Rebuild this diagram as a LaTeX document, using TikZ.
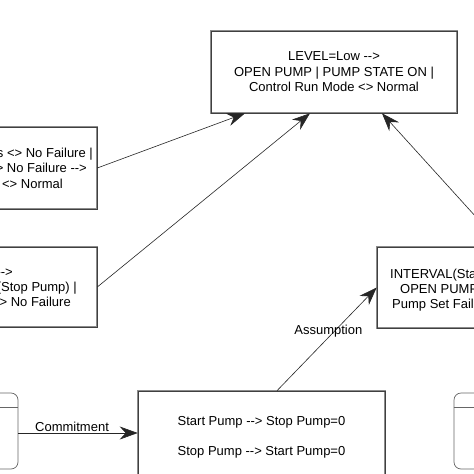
\documentclass[tikz,border=0pt]{standalone}
\usepackage{fontspec}
\setmainfont{Liberation Sans}[Ligatures=TeXOff]
\usetikzlibrary{arrows.meta}
\begin{document}
\begin{tikzpicture}[x=1pt,y=-1pt,
  frame/.style={draw=black!45, double=black!75, line width=0.6pt, double distance=0.5pt, fill=white, inner sep=0pt},
  ubox/.style={draw=black!60, line width=0.7pt, rounded corners=7pt},
  divline/.style={draw=black!60, line width=0.7pt},
  conn/.style={draw=black!85, line width=0.6pt, -{Stealth[length=18pt,width=13pt,inset=6pt]}},
  txt/.style={font=\fontsize{13}{15.5}\selectfont, inner sep=0pt},
  lbl/.style={font=\fontsize{13}{15.5}\selectfont, inner sep=0pt}]
\clip (0,0) rectangle (474,474);
\fill[white] (0,0) rectangle (474,474);
% top box
\node[frame, txt, minimum width=246pt, minimum height=82pt, align=center] (top) at (334,72)
  {LEVEL=Low -->\\OPEN PUMP | PUMP STATE ON |\\Control Run Mode <> Normal};
% left box 1
\node[frame, minimum width=242pt, minimum height=82pt] (ba) at (-24,168) {};
\node[txt, anchor=base east] (ba1) at (93,157) {s <> No Failure |};
\node[txt, anchor=base east] (ba2) at (87,172) {<> No Failure -->};
\node[txt, anchor=base east] (ba3) at (63,188) {<> Normal};
% left box 2
\node[frame, minimum width=242pt, minimum height=80pt] (bb) at (-24,287) {};
\node[txt, anchor=base east] (bb1) at (13,276) {-->};
\node[txt, anchor=base east] (bb2) at (77,291) {(Stop Pump) |};
\node[txt, anchor=base east] (bb3) at (71,306) {<> No Failure};
% interval box
\node[frame, minimum width=252pt, minimum height=81pt] (iv) at (503,287.5) {};
\node[txt, anchor=base west] (iv1) at (390,278) {INTERVAL(Start};
\node[txt, anchor=base west] (iv2) at (400,293) {OPEN PUMP};
\node[txt, anchor=base west] (iv3) at (392,308) {Pump Set Failure};
% middle bottom box
\node[frame, minimum width=247pt, minimum height=92pt, align=center, font=\fontsize{13}{30}\selectfont] (mid) at (261.5,437)
  {Start Pump --> Stop Pump=0\\Stop Pump --> Start Pump=0};
% rounded boxes
\node[ubox, minimum width=80pt, minimum height=76pt] (bl) at (-22,431) {};
\draw[divline] ([yshift=-15pt]bl.north west) -- ([yshift=-15pt]bl.north east);
\node[ubox, minimum width=80pt, minimum height=76pt] (br) at (494,431) {};
\draw[divline] ([yshift=-15pt]br.north west) -- ([yshift=-15pt]br.north east);
% connectors
\draw[conn] (ba.east) -- ([xshift=-89pt]top.south);
\draw[conn] (bb.east) -- ([xshift=-24pt]top.south);
\draw[conn] (iv.north) -- ([xshift=48pt]top.south);
\draw[conn] ([xshift=15.5pt]mid.north) -- node[lbl, pos=0.54, anchor=base, xshift=-2.5pt] (asm) {Assumption} (iv.west);
\coordinate (cstart) at ([yshift=-2pt]bl.east);
\draw[conn] (cstart) -- node[lbl, pos=0.45, anchor=base, yshift=2pt] (cmt) {Commitment} (cstart -| mid.west);
\end{tikzpicture}
\end{document}
